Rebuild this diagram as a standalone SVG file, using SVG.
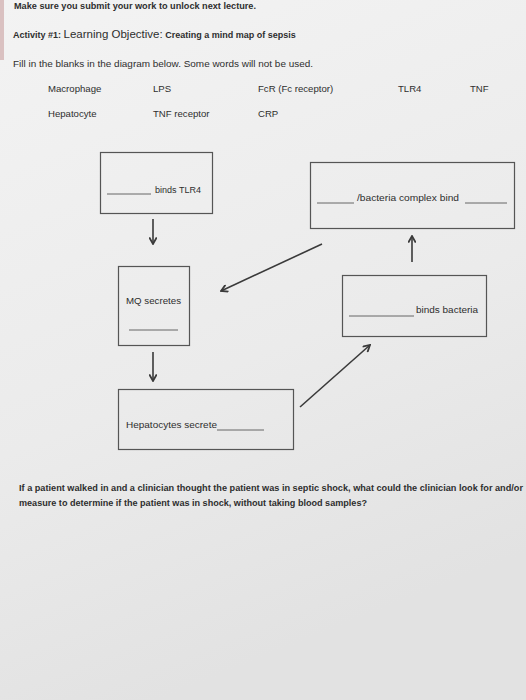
<svg xmlns="http://www.w3.org/2000/svg" width="526" height="700" viewBox="0 0 526 700">
<defs>
<linearGradient id="bg" x1="0" y1="0" x2="0.3" y2="1">
<stop offset="0" stop-color="#f3f3f3"/>
<stop offset="0.6" stop-color="#ebebeb"/>
<stop offset="1" stop-color="#e2e2e2"/>
</linearGradient>
<marker id="ah" viewBox="0 0 10 10" refX="8.5" refY="5" markerWidth="5.5" markerHeight="5.5" orient="auto" markerUnits="strokeWidth">
<path d="M1,0.8 L8.5,5 L1,9.2" fill="none" stroke="#3a3a3a" stroke-width="2" stroke-linejoin="miter"/>
</marker>
<style>
.t{font-family:"Liberation Sans",Arial,sans-serif;fill:#2e2e2e;}
.b{font-weight:bold;}
.box{fill:none;stroke:#555;stroke-width:1.2;}
.blank{stroke:#444;stroke-width:0.8;}
.arr{stroke:#3a3a3a;stroke-width:1.6;fill:none;marker-end:url(#ah);}
</style>
</defs>
<rect x="0" y="0" width="526" height="700" fill="url(#bg)"/>
<rect x="0" y="0" width="4" height="60" fill="#c9a0a0" opacity="0.6"/>

<text class="t b" x="14" y="8.5" font-size="9" textLength="242" lengthAdjust="spacingAndGlyphs">Make sure you submit your work to unlock next lecture.</text>
<text class="t b" x="13" y="38" font-size="9">Activity #1: <tspan font-size="11.5" font-weight="normal">Learning Objective:</tspan> Creating a mind map of sepsis</text>
<text class="t" x="13" y="67" font-size="9.8" textLength="300" lengthAdjust="spacingAndGlyphs">Fill in the blanks in the diagram below.  Some words will not be used.</text>

<g id="wordbank">
<text class="t" x="48" y="92" font-size="9.6">Macrophage</text>
<text class="t" x="153" y="92" font-size="9.6">LPS</text>
<text class="t" x="258" y="92" font-size="9.6">FcR (Fc receptor)</text>
<text class="t" x="398" y="92" font-size="9.6">TLR4</text>
<text class="t" x="470" y="92" font-size="9.6">TNF</text>
<text class="t" x="48" y="117" font-size="9.6">Hepatocyte</text>
<text class="t" x="153" y="117" font-size="9.6">TNF receptor</text>
<text class="t" x="258" y="117" font-size="9.6">CRP</text>
</g>

<g id="box-tlr4">
<rect class="box" x="100.5" y="152.5" width="112" height="61"/>
<line class="blank" x1="107" y1="194" x2="151" y2="194"/>
<text class="t" x="155" y="193" font-size="9.6" textLength="46" lengthAdjust="spacingAndGlyphs">binds TLR4</text>
</g>

<g id="box-complex">
<rect class="box" x="310.5" y="162.5" width="204" height="66"/>
<line class="blank" x1="317" y1="203" x2="354" y2="203"/>
<text class="t" x="357" y="201" font-size="9.6" textLength="102" lengthAdjust="spacingAndGlyphs">/bacteria complex bind</text>
<line class="blank" x1="465" y1="203" x2="507" y2="203"/>
</g>

<g id="box-mq">
<rect class="box" x="118.5" y="266.5" width="71" height="79"/>
<text class="t" x="126" y="304" font-size="9.4" textLength="55" lengthAdjust="spacingAndGlyphs">MQ secretes</text>
<line class="blank" x1="129" y1="330" x2="178" y2="330"/>
</g>

<g id="box-bacteria">
<rect class="box" x="342.5" y="275.5" width="144" height="61"/>
<line class="blank" x1="349" y1="316" x2="414" y2="316"/>
<text class="t" x="416" y="313" font-size="9.6" textLength="62" lengthAdjust="spacingAndGlyphs">binds bacteria</text>
</g>

<g id="box-hep">
<rect class="box" x="118.5" y="389.5" width="175" height="60"/>
<text class="t" x="126" y="428" font-size="9.8" textLength="91" lengthAdjust="spacingAndGlyphs">Hepatocytes secrete</text>
<line class="blank" x1="217" y1="430" x2="264" y2="430"/>
</g>

<g id="connectors">
<line class="arr" x1="153" y1="219" x2="153" y2="244"/>
<line class="arr" x1="412" y1="262" x2="412" y2="236"/>
<line class="arr" x1="322" y1="244" x2="221" y2="291"/>
<line class="arr" x1="153" y1="352" x2="153" y2="381"/>
<line class="arr" x1="300" y1="407" x2="370" y2="345"/>
</g>

<text class="t b" x="19" y="491" font-size="9" textLength="504" lengthAdjust="spacingAndGlyphs">If a patient walked in and a clinician thought the patient was in septic shock, what could the clinician look for and/or</text>
<text class="t b" x="19" y="506" font-size="9" textLength="348" lengthAdjust="spacingAndGlyphs">measure to determine if the patient was in shock, without taking blood samples?</text>
</svg>
